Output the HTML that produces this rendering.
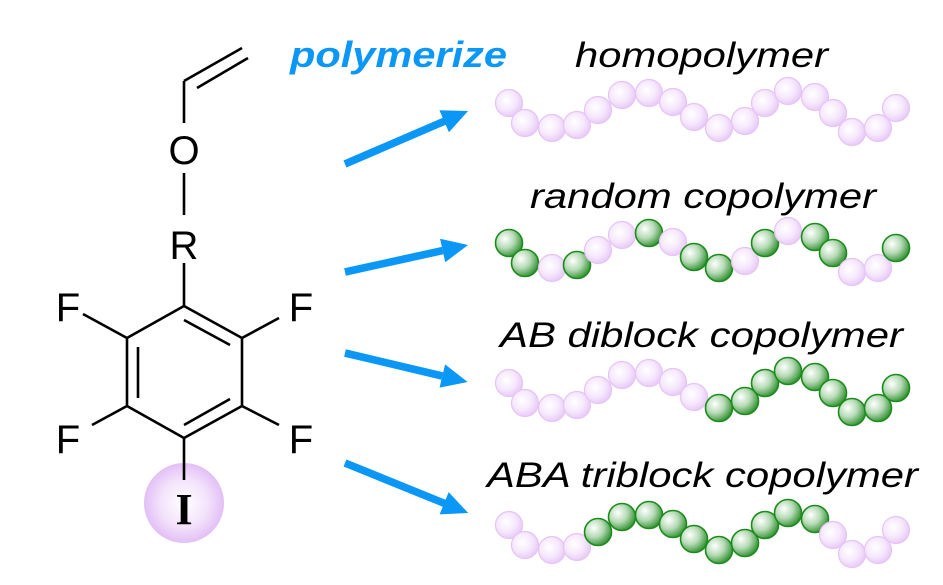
<!DOCTYPE html>
<html><head><meta charset="utf-8"><style>
html,body{margin:0;padding:0;background:#fff;}
svg{display:block;}
.p{fill:url(#gp);stroke:#e6c4f7;stroke-width:1.2}
.g{fill:url(#gg);stroke:#1b8c1b;stroke-width:1.6}
.t{font-family:"Liberation Sans",sans-serif;font-style:italic;font-size:35px;fill:#000}
.a{font-family:"Liberation Sans",sans-serif;font-size:40px;fill:#000}
</style></head><body>
<svg width="943" height="585" viewBox="0 0 943 585" xmlns="http://www.w3.org/2000/svg">
<defs>
<radialGradient id="gp" cx="0.4" cy="0.4" r="0.65"><stop offset="0" stop-color="#ffffff"/><stop offset="0.55" stop-color="#f6e8fc"/><stop offset="1" stop-color="#e6c6f6"/></radialGradient>
<radialGradient id="gg" cx="0.35" cy="0.35" r="0.7"><stop offset="0" stop-color="#ffffff"/><stop offset="0.5" stop-color="#b5dab5"/><stop offset="1" stop-color="#2f8f2f"/></radialGradient>
<radialGradient id="gi" cx="0.5" cy="0.5" r="0.5"><stop offset="0" stop-color="#ffffff"/><stop offset="0.6" stop-color="#f3e2fb"/><stop offset="1" stop-color="#e2bff5"/></radialGradient>
<circle id="b" r="13.5"/>
</defs>

<g stroke="#000" stroke-width="2.6" fill="none">
<line x1="184" y1="123" x2="184" y2="81"/>
<line x1="184" y1="81" x2="242" y2="48"/>
<line x1="197" y1="88" x2="248" y2="58"/>
<line x1="184" y1="173" x2="184" y2="215"/>
<line x1="184" y1="263" x2="184" y2="306"/>
<polygon points="184,306 242,338 242,406 184,438 127,406 127,338"/>
<line x1="184" y1="320" x2="230" y2="345"/>
<line x1="138" y1="347" x2="138" y2="398"/>
<line x1="184" y1="425" x2="230" y2="399"/>
<line x1="127" y1="338" x2="83" y2="314"/>
<line x1="242" y1="338" x2="279" y2="318"/>
<line x1="127" y1="406" x2="92" y2="425"/>
<line x1="242" y1="406" x2="279" y2="425"/>
</g>
<circle cx="184" cy="503" r="40" fill="url(#gi)"/>
<line x1="184" y1="438" x2="184" y2="480" stroke="#000" stroke-width="2.6"/>
<g class="a" text-anchor="middle">
<text x="184" y="164">O</text>
<text x="184" y="259">R</text>
<text x="68" y="321">F</text>
<text x="301" y="321">F</text>
<text x="68" y="453">F</text>
<text x="301" y="453">F</text>
</g>
<text x="184" y="524" text-anchor="middle" font-family="Liberation Serif,serif" font-weight="bold" font-size="44" fill="#000">I</text>

<text x="290" y="67" textLength="217" lengthAdjust="spacingAndGlyphs" font-family="Liberation Sans,sans-serif" font-weight="bold" font-style="italic" font-size="36" fill="#0a97f5">polymerize</text>
<text class="t" x="575" y="67" textLength="253" lengthAdjust="spacingAndGlyphs">homopolymer</text>
<text class="t" x="530" y="208" textLength="346" lengthAdjust="spacingAndGlyphs">random copolymer</text>
<text class="t" x="500" y="347" textLength="403" lengthAdjust="spacingAndGlyphs">AB diblock copolymer</text>
<text class="t" x="487" y="487" textLength="431" lengthAdjust="spacingAndGlyphs">ABA triblock copolymer</text>

<g fill="#0a97f5">
<g transform="translate(345,164) rotate(-23.3)"><rect x="0" y="-3.8" width="112" height="7.6"/><polygon points="108,-12 134,0 108,12"/></g>
<g transform="translate(345,272) rotate(-12.4)"><rect x="0" y="-3.8" width="100" height="7.6"/><polygon points="100,-12 126,0 100,12"/></g>
<g transform="translate(345,353) rotate(13.3)"><rect x="0" y="-3.8" width="100" height="7.6"/><polygon points="100,-12 126,0 100,12"/></g>
<g transform="translate(345,463) rotate(22.1)"><rect x="0" y="-3.8" width="108" height="7.6"/><polygon points="107,-12 133,0 107,12"/></g>
</g>

<g>
<use href="#b" class="p" x="509" y="103"/><use href="#b" class="p" x="525" y="123"/><use href="#b" class="p" x="552" y="128"/><use href="#b" class="p" x="577" y="125"/><use href="#b" class="p" x="598" y="110"/><use href="#b" class="p" x="622" y="95"/><use href="#b" class="p" x="649" y="93"/><use href="#b" class="p" x="673" y="102"/><use href="#b" class="p" x="694" y="117"/><use href="#b" class="p" x="719" y="128"/><use href="#b" class="p" x="745" y="121"/><use href="#b" class="p" x="765" y="103"/><use href="#b" class="p" x="788" y="91"/><use href="#b" class="p" x="815" y="97"/><use href="#b" class="p" x="833" y="113"/><use href="#b" class="p" x="852" y="132"/><use href="#b" class="p" x="878" y="128"/><use href="#b" class="p" x="896" y="108"/>
</g>
<g transform="translate(0,140)">
<use href="#b" class="g" x="509" y="103"/><use href="#b" class="g" x="525" y="123"/><use href="#b" class="p" x="552" y="128"/><use href="#b" class="g" x="577" y="125"/><use href="#b" class="p" x="598" y="110"/><use href="#b" class="p" x="622" y="95"/><use href="#b" class="g" x="649" y="93"/><use href="#b" class="p" x="673" y="102"/><use href="#b" class="g" x="694" y="117"/><use href="#b" class="g" x="719" y="128"/><use href="#b" class="p" x="745" y="121"/><use href="#b" class="g" x="765" y="103"/><use href="#b" class="p" x="788" y="91"/><use href="#b" class="g" x="815" y="97"/><use href="#b" class="g" x="833" y="113"/><use href="#b" class="p" x="852" y="132"/><use href="#b" class="p" x="878" y="128"/><use href="#b" class="g" x="896" y="108"/>
</g>
<g transform="translate(0,280)">
<use href="#b" class="p" x="509" y="103"/><use href="#b" class="p" x="525" y="123"/><use href="#b" class="p" x="552" y="128"/><use href="#b" class="p" x="577" y="125"/><use href="#b" class="p" x="598" y="110"/><use href="#b" class="p" x="622" y="95"/><use href="#b" class="p" x="649" y="93"/><use href="#b" class="p" x="673" y="102"/><use href="#b" class="p" x="694" y="117"/><use href="#b" class="g" x="719" y="128"/><use href="#b" class="g" x="745" y="121"/><use href="#b" class="g" x="765" y="103"/><use href="#b" class="g" x="788" y="91"/><use href="#b" class="g" x="815" y="97"/><use href="#b" class="g" x="833" y="113"/><use href="#b" class="g" x="852" y="132"/><use href="#b" class="g" x="878" y="128"/><use href="#b" class="g" x="896" y="108"/>
</g>
<g transform="translate(0,422)">
<use href="#b" class="p" x="509" y="103"/><use href="#b" class="p" x="525" y="123"/><use href="#b" class="p" x="552" y="128"/><use href="#b" class="p" x="577" y="125"/><use href="#b" class="g" x="598" y="110"/><use href="#b" class="g" x="622" y="95"/><use href="#b" class="g" x="649" y="93"/><use href="#b" class="g" x="673" y="102"/><use href="#b" class="g" x="694" y="117"/><use href="#b" class="g" x="719" y="128"/><use href="#b" class="g" x="745" y="121"/><use href="#b" class="g" x="765" y="103"/><use href="#b" class="g" x="788" y="91"/><use href="#b" class="g" x="815" y="97"/><use href="#b" class="p" x="833" y="113"/><use href="#b" class="p" x="852" y="132"/><use href="#b" class="p" x="878" y="128"/><use href="#b" class="p" x="896" y="108"/>
</g>
</svg>
</body></html>
